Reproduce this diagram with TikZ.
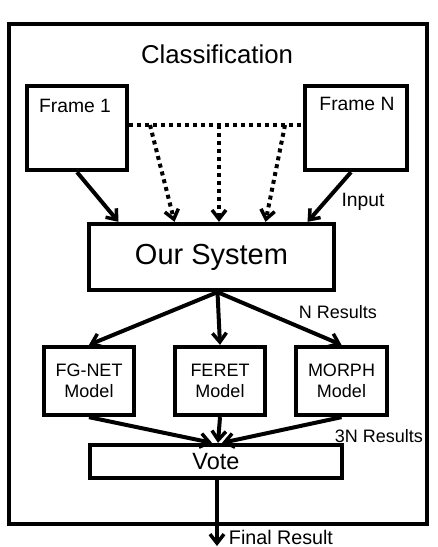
\documentclass[tikz,border=0pt]{standalone}
\usepackage{fontspec}
\setmainfont{Liberation Sans}
\usetikzlibrary{arrows.meta}

\begin{document}
\begin{tikzpicture}[x=1pt, y=-1pt,
            box/.style={draw, line width=4.3pt, inner sep=0pt}, % Plain rectangle
            flow/.style={line width=4pt, -{Straight Barb[length=9pt,width=14pt,line width=3.5pt]}}, % Solid arrow
            dots/.style={line width=4pt, dash pattern=on 4pt off 4pt}, % Dotted line
            big/.style={font=\fontsize{25.8}{30}\selectfont},
            mid/.style={font=\fontsize{19.3}{22}\selectfont},
            small/.style={font=\fontsize{18}{21}\selectfont, align=center}
            ]
        \useasboundingbox (0,0) rectangle (438,547);

        % Outer frame and title
        \node[box, minimum width=418pt, minimum height=500pt] (outer) at (218,274) {};
        \node[big] (title) at (217,54) {Classification};

        % Input frames
        \node[box, minimum width=100pt, minimum height=84pt] (frame1) at (77,128) {};
        \node[mid] (frame1txt) at (75,106) {Frame 1};
        \node[box, minimum width=102pt, minimum height=84pt] (frameN) at (356,128) {};
        \node[mid] (frameNtxt) at (357,104) {Frame N};

        % Main blocks
        \node[box, minimum width=245pt, minimum height=66pt, font=\fontsize{29}{34}\selectfont] (sys) at (211.5,257) {Our System};
        \node[box, minimum width=90pt, minimum height=68pt, small] (fgnet) at (89,381) {FG-NET\\Model};
        \node[box, minimum width=90pt, minimum height=68pt, small] (feret) at (220,381) {FERET\\Model};
        \node[box, minimum width=91pt, minimum height=68pt, small] (morph) at (341.5,381) {MORPH\\Model};
        \node[box, minimum width=252pt, minimum height=33pt, font=\fontsize{23.5}{27}\selectfont] (vote) at (216,461.5) {Vote};

        % Dotted frames in between
        \coordinate (d1) at (150,125);
        \coordinate (d2) at (219,125);
        \coordinate (d3) at (285,125);
        \draw[dots] ([yshift=3pt]frame1.east) -- ([yshift=3pt]frameN.west);
        \draw[dots, flow] (d1) -- ([xshift=-37pt]sys.north);
        \draw[dots, flow] (d2) -- ([xshift=7.5pt]sys.north);
        \draw[dots, flow] (d3) -- ([xshift=54pt]sys.north);

        % Input arrows
        \draw[flow] (frame1.south) -- ([xshift=-93pt]sys.north);
        \draw[flow] ([xshift=-5pt]frameN.south) -- ([xshift=96pt]sys.north);
        \node[mid] (input) at (363,202) {Input};

        % N results
        \draw[flow] ([xshift=6pt]sys.south) -- (fgnet.north);
        \draw[flow] ([xshift=6pt]sys.south) -- (feret.north);
        \draw[flow] ([xshift=6pt]sys.south) -- (morph.north);
        \node[small] (nres) at (338,312) {N Results};

        % 3N results
        \draw[flow] (fgnet.south) -- ([xshift=-4pt]vote.north);
        \draw[flow] (feret.south) -- ([xshift=2pt]vote.north);
        \draw[flow] (morph.south) -- ([xshift=6pt]vote.north);
        \node[small] (tnres) at (379,436) {3N Results};

        % Final result
        \coordinate (final) at (217,546);
        \draw[flow] ([xshift=1pt]vote.south) -- (final);
        \node[font=\fontsize{19.7}{23}\selectfont] (finaltxt) at (281,537) {Final Result};

    \end{tikzpicture}
\end{document}
